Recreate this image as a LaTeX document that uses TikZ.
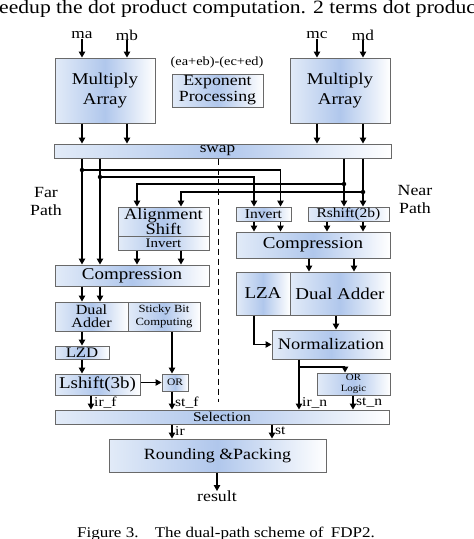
\documentclass[tikz,border=0pt]{standalone}
\usepackage{fontspec}
\setmainfont{Liberation Serif}[FakeStretch=1.15]
\usetikzlibrary{arrows.meta,calc}
\definecolor{bla}{RGB}{226,235,248}
\definecolor{blb}{RGB}{176,199,236}
\definecolor{bxg}{RGB}{105,105,105}
\newcommand\fsz[2]{\fontsize{#1}{#2}\selectfont}
\begin{document}
\begin{tikzpicture}[x=1pt,y=-1pt,
  bx/.style={draw=bxg, line width=1pt, left color=bla, right color=white, middle color=blb,
             inner sep=0pt, align=center, anchor=center},
  arr/.style={line width=1.1pt, -{Triangle[length=6pt,width=6.5pt]}},
  ln/.style={line width=1.1pt},
  dsh/.style={line width=1pt, dash pattern=on 6pt off 4pt},
  jdot/.style={circle, fill=black, inner sep=0pt, minimum size=4.5pt},
  lab/.style={inner sep=0pt}]
\useasboundingbox (0,0) rectangle (474,539);
\fill[white] (0,0) rectangle (474,539);

% vertical line positions
\foreach \n/\xx in {va/82,vb/100,vc/127,vd/137,ve/181,vf/254,vg/280.5,vh/344,vi/363,vj/317,
                    vk/327,vl/309,vm/354,vn/336,vo/254,vp/299,vq/345,vr/353,vs/91,vt/172,
                    vu/272,vw/217,vx/218}
  \coordinate (\n) at (\xx,0);

% texts outside the figure
\node[anchor=base west, inner sep=0pt, font=\fsz{18.8}{20}] (topcap) at (-1,13)
  {eedup the dot product computation. 2 terms dot product};
\node[anchor=base, inner sep=0pt, font=\fsz{14.8}{16}] (figcap) at (226,537)
  {Figure 3.\hspace{1.1em}The dual-path scheme of\hspace{0.5em}FDP2.};

% inputs
\node[lab, font=\fsz{15}{16}] (ma) at (82,35) {ma};
\node[lab, font=\fsz{15}{16}] (mb) at (127,35) {mb};
\node[lab, font=\fsz{15}{16}] (mc) at (317,35) {mc};
\node[lab, font=\fsz{15}{16}] (md) at (363,35) {md};

% top blocks
\node[bx, minimum width=100pt, minimum height=65pt, font=\fsz{16.5}{20}] (mulL) at (105,90.5) {Multiply\\Array};
\node[bx, minimum width=100pt, minimum height=65pt, font=\fsz{16.5}{20}] (mulR) at (340,90.5) {Multiply\\Array};
\node[bx, minimum width=91pt, minimum height=33pt, font=\fsz{15.5}{16}] (exp) at (217.5,90.5) {Exponent\\Processing};
\node[lab, font=\fsz{12.5}{14}] (explab) at (217,62) {(ea+eb)-(ec+ed)};

\node[bx, minimum width=337pt, minimum height=14pt, font=\fsz{15}{15}] (swap) at (222.5,151) {\hspace*{-10pt}swap};

\node[lab, align=center, font=\fsz{15.5}{18}] (far) at (46,201) {Far\\Path};
\node[lab, align=center, font=\fsz{15.5}{18}] (near) at (415,199) {Near\\Path};

% far path
\node[bx, minimum width=91pt, minimum height=29pt, font=\fsz{16}{14}] (align) at (163.5,221.5) {Alignment\\Shift};
\node[bx, minimum width=91pt, minimum height=14pt, font=\fsz{13}{13}] (finv) at (163.5,243) {Invert};
\node[bx, minimum width=154pt, minimum height=21pt, font=\fsz{16.5}{17}] (fcomp) at (132,275.5) {Compression};
\node[bx, minimum width=73pt, minimum height=29pt, font=\fsz{14}{13}] (fadd) at (91.5,316.5) {Dual\\Adder};
\node[bx, minimum width=72pt, minimum height=29pt, font=\fsz{11}{13}] (sticky) at (164,316.5) {Sticky Bit\\Computing};
\node[bx, minimum width=54pt, minimum height=13pt, font=\fsz{14.5}{15}] (lzd) at (82,352.5) {LZD};
\node[bx, minimum width=85pt, minimum height=21pt, font=\fsz{16.5}{17}] (lsh) at (97.5,384.5) {Lshift(3b)};
\node[bx, minimum width=26pt, minimum height=17pt, font=\fsz{10}{11}] (forr) at (175,382.5) {OR};

% near path
\node[bx, minimum width=55pt, minimum height=14pt, font=\fsz{13.5}{14}] (ninv) at (263.5,214) {Invert};
\node[bx, minimum width=81pt, minimum height=14pt, font=\fsz{13.5}{14}] (rsh) at (348.5,214) {Rshift(2b)};
\node[bx, minimum width=154pt, minimum height=26pt, font=\fsz{16.5}{17}] (ncomp) at (313,245) {Compression};
\node[bx, minimum width=54pt, minimum height=43pt, font=\fsz{16.5}{17}] (lza) at (263,293.5) {LZA};
\node[bx, minimum width=100pt, minimum height=43pt, font=\fsz{16.5}{17}] (nadd) at (340,293.5) {Dual Adder};
\node[bx, minimum width=118pt, minimum height=29pt, font=\fsz{16}{17}] (norm) at (331,344.5) {Normalization};
\node[bx, minimum width=73pt, minimum height=22pt, font=\fsz{9.5}{11}] (orl) at (353.5,384) {OR\\Logic};

% bottom
\node[bx, minimum width=334pt, minimum height=14pt, font=\fsz{13.5}{14}] (sel) at (222,417) {Selection};
\node[bx, minimum width=217pt, minimum height=33pt, font=\fsz{15.6}{17}] (rnd) at (217.5,455.5) {Rounding \&Packing};
\node[lab, anchor=north, font=\fsz{15.5}{16}] (res) at (217,491) {result};

% small labels
\node[lab, anchor=west, font=\fsz{13.5}{14}] (irf) at (94,403) {ir\_f};
\node[lab, anchor=west, font=\fsz{13.5}{14}] (stf) at (175,403) {st\_f};
\node[lab, anchor=west, font=\fsz{13.5}{14}] (irn) at (302,403) {ir\_n};
\node[lab, anchor=west, font=\fsz{13.5}{14}] (stn) at (356,403) {st\_n};
\node[lab, anchor=west, font=\fsz{13.5}{14}] (irl) at (175,431) {ir};
\node[lab, anchor=west, font=\fsz{13.5}{14}] (stl) at (275,431) {st};

% dashed separator
\coordinate (dbot) at (218,402);
\draw[dsh] (vx |- swap.south) -- (dbot);

% connectors: top
\draw[arr] (ma) -- (ma |- mulL.north);
\draw[arr] (mb) -- (mb |- mulL.north);
\draw[arr] (mc) -- (mc |- mulR.north);
\draw[arr] (md) -- (md |- mulR.north);
\draw[arr] (va |- mulL.south) -- (va |- swap.north);
\draw[arr] (vc |- mulL.south) -- (vc |- swap.north);
\draw[arr] (vj |- mulR.south) -- (vj |- swap.north);
\draw[arr] (vi |- mulR.south) -- (vi |- swap.north);

% swap outputs
\draw[arr] (va |- swap.south) -- (va |- fcomp.north);
\draw[arr] (vb |- swap.south) -- (vb |- fcomp.north);
\draw[arr] (vh |- swap.south) -- (vh |- rsh.north);
\draw[arr] (vi |- swap.south) -- (vi |- rsh.north);
\node[jdot] (d1) at (82,170) {};
\node[jdot] (d2) at (100,177) {};
\node[jdot] (d3) at (344,184) {};
\node[jdot] (d4) at (363,192) {};
\draw[arr] (d1.center) -| (vg |- ninv.north);
\draw[arr] (d2.center) -| (vf |- ninv.north);
\draw[arr] (d3.center) -| (vd |- align.north);
\draw[arr] (d4.center) -| (ve |- align.north);

% far path
\draw[arr] (vd |- finv.south) -- (vd |- fcomp.north);
\draw[arr] (ve |- finv.south) -- (ve |- fcomp.north);
\draw[arr] (va |- fcomp.south) -- (va |- fadd.north);
\draw[arr] (vb |- fcomp.south) -- (vb |- fadd.north);
\draw[arr] (va |- fadd.south) -- (va |- lzd.north);
\draw[arr] (va |- lzd.south) -- (va |- lsh.north);
\draw[arr] (lsh.east |- forr.west) -- (forr.west);
\draw[arr] (vt |- sticky.south) -- (vt |- forr.north);
\draw[arr] (vs |- lsh.south) -- (vs |- sel.north);
\draw[arr] (vt |- forr.south) -- (vt |- sel.north);

% near path
\draw[arr] (vf |- ninv.south) -- (vf |- ncomp.north);
\draw[arr] (vg |- ninv.south) -- (vg |- ncomp.north);
\draw[arr] (vk |- rsh.south) -- (vk |- ncomp.north);
\draw[arr] (vi |- rsh.south) -- (vi |- ncomp.north);
\draw[arr] (vl |- ncomp.south) -- (vl |- nadd.north);
\draw[arr] (vm |- ncomp.south) -- (vm |- nadd.north);
\draw[arr] (vn |- nadd.south) -- (vn |- norm.north);
\draw[arr] (vo |- lza.south) |- (norm.west);
\draw[arr] (vp |- norm.south) -- (vp |- sel.north);
\coordinate (br) at (299,367);
\draw[arr] (br) -| (vq |- orl.north);
\draw[arr] (vr |- orl.south) -- (vr |- sel.north);

% bottom
\draw[arr] (vt |- sel.south) -- (vt |- rnd.north);
\draw[arr] (vu |- sel.south) -- (vu |- rnd.north);
\draw[arr] (vw |- rnd.south) -- (res.north);
\end{tikzpicture}
\end{document}
